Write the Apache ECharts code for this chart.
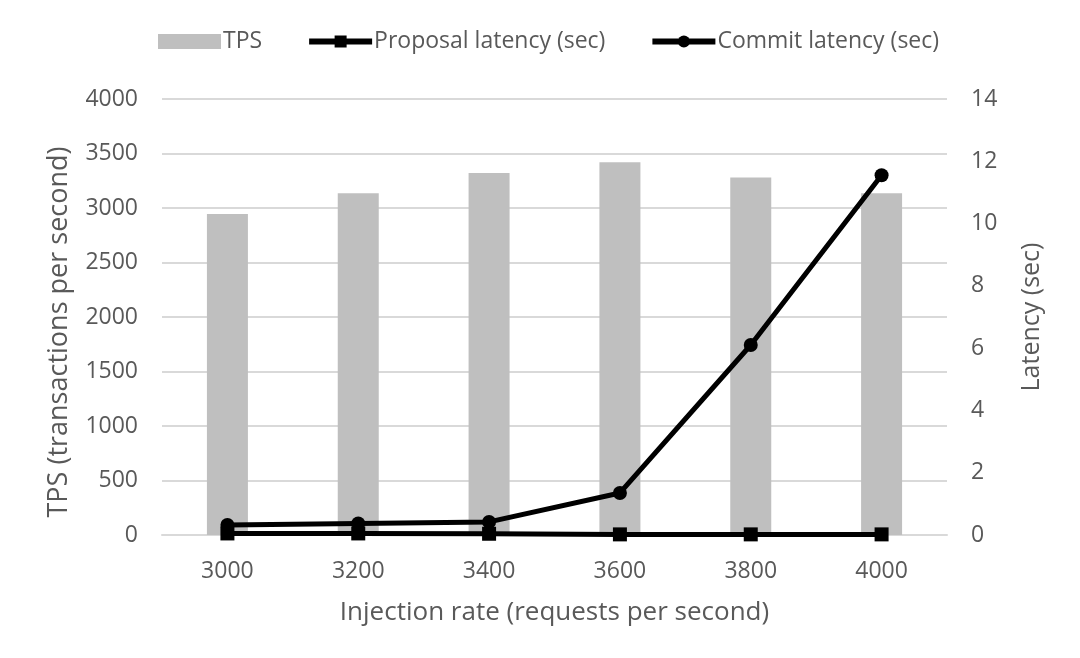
<!DOCTYPE html>
<html>
<head>
<meta charset="utf-8">
<script src="https://cdn.jsdelivr.net/npm/echarts@6/dist/echarts.min.js"></script>
<style>
html,body{margin:0;padding:0;background:#fff;}
#chart{width:1080px;height:658px;}
</style>
</head>
<body>
<div id="chart"></div>
<script>
const categories = ['3000', '3200', '3400', '3600', '3800', '4000'];
const tps = [2945, 3135, 3320, 3420, 3280, 3135];
const proposalLatency = [0.05, 0.05, 0.04, 0.02, 0.02, 0.02];
const commitLatency = [0.32, 0.37, 0.42, 1.35, 6.1, 11.55];

const FONT = '"Open Sans", Lato, sans-serif';
const TXT = '#595959';

const chart = echarts.init(document.getElementById('chart'));
chart.setOption({
  animation: false,
  textStyle: { fontFamily: FONT },
  legend: {
    top: 25,
    left: 153,
    itemGap: 44,
    itemWidth: 63,
    itemHeight: 15,
    textStyle: { fontSize: 23, color: TXT, fontFamily: FONT, padding: [0, 0, 0, -3] },
    lineStyle: { width: 6 },
    data: [
      { name: 'TPS', icon: 'rect' },
      { name: 'Proposal latency (sec)' },
      { name: 'Commit latency (sec)' }
    ]
  },
  grid: { left: 162, right: 133, top: 99, bottom: 123, containLabel: false },
  xAxis: {
    type: 'category',
    data: categories,
    name: 'Injection rate (requests per second)',
    nameLocation: 'middle',
    nameGap: 65,
    nameTextStyle: { fontSize: 26, color: TXT, fontFamily: FONT },
    axisLine: { lineStyle: { color: '#d9d9d9', width: 2 } },
    axisTick: { show: false },
    axisLabel: { fontSize: 23, color: TXT, margin: 25, fontFamily: FONT }
  },
  yAxis: [
    {
      type: 'value',
      min: 0, max: 4000, interval: 500,
      name: 'TPS (transactions per second)',
      nameLocation: 'middle',
      nameRotate: 90,
      nameGap: 89,
      nameTextStyle: { fontSize: 27, color: TXT, fontFamily: FONT, padding: [0, 30, 0, 0] },
      axisLine: { show: false },
      axisTick: { show: false },
      axisLabel: { fontSize: 23, color: TXT, margin: 24, fontFamily: FONT, formatter: v => String(v) },
      splitLine: { lineStyle: { color: '#d9d9d9', width: 2 } }
    },
    {
      type: 'value',
      min: 0, max: 14, interval: 2,
      position: 'right',
      name: 'Latency (sec)',
      nameLocation: 'middle',
      nameRotate: 90,
      nameGap: 72,
      nameTextStyle: { fontSize: 25, color: TXT, fontFamily: FONT },
      axisLine: { show: false },
      axisTick: { show: false },
      axisLabel: { fontSize: 23, color: TXT, margin: 24, fontFamily: FONT },
      splitLine: { show: false }
    }
  ],
  series: [
    {
      name: 'TPS',
      type: 'bar',
      data: tps,
      barWidth: 41,
      itemStyle: { color: '#bfbfbf' }
    },
    {
      name: 'Proposal latency (sec)',
      type: 'line',
      yAxisIndex: 1,
      data: proposalLatency,
      symbol: 'rect',
      symbolSize: 14,
      lineStyle: { color: '#000', width: 5 },
      itemStyle: { color: '#000' }
    },
    {
      name: 'Commit latency (sec)',
      type: 'line',
      yAxisIndex: 1,
      data: commitLatency,
      symbol: 'circle',
      symbolSize: 14,
      lineStyle: { color: '#000', width: 5 },
      itemStyle: { color: '#000' }
    }
  ]
});
</script>
</body>
</html>
